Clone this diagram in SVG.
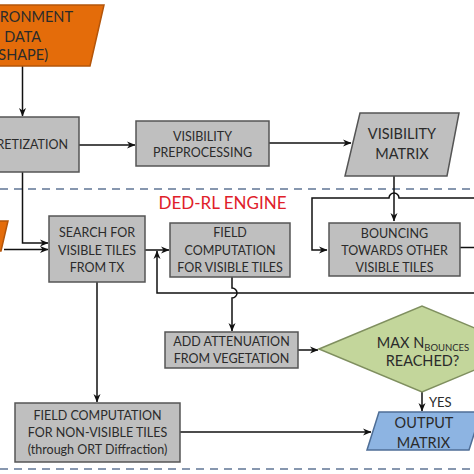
<svg xmlns="http://www.w3.org/2000/svg" width="474" height="474" viewBox="0 0 474 474">
<defs>
<marker id="ah" markerWidth="9" markerHeight="8" refX="8" refY="4" orient="auto" markerUnits="userSpaceOnUse">
<path d="M0,0.5 L8.5,4 L0,7.5 L2.5,4 z" fill="#111"/>
</marker>
<style>
.box{fill:#BFBFBF;stroke:#555;stroke-width:1.5}
.t{font-family:Lato,"Liberation Sans",sans-serif;font-size:12.5px;fill:#2b2b2b;text-anchor:middle}
.tb{font-family:Lato,"Liberation Sans",sans-serif;font-size:14.5px;fill:#2b2b2b;text-anchor:middle}
.c{fill:none;stroke:#111;stroke-width:1.5}
.ca{fill:none;stroke:#111;stroke-width:1.5;marker-end:url(#ah)}
.dash{stroke:#8797AF;stroke-width:2;stroke-dasharray:8 6;fill:none}
</style>
</defs>
<rect width="474" height="474" fill="#fff"/>

<g id="separators">
<line class="dash" x1="0" y1="189" x2="474" y2="189"/>
<line class="dash" x1="0" y1="469" x2="474" y2="469"/>
</g>

<g id="connectors">
<path class="ca" d="M22.5,66 V116"/>
<path class="ca" d="M79,145 H135"/>
<path class="ca" d="M269,143 H351"/>
<path class="ca" d="M394,176 V221"/>
<path class="ca" d="M474,198 H399 a5,5 0 0 0 -10,0 H312 V250 H327"/>
<path class="c" d="M460,247.5 H474"/>
<path class="ca" d="M474,293 H157 V251"/>
<path class="ca" d="M22.5,172 V243 H48"/>
<path class="ca" d="M4,249.5 H48"/>
<path class="ca" d="M145,250 H169"/>
<path class="ca" d="M232,277 V288 a5,5 0 0 1 0,10 V331"/>
<path class="ca" d="M97,282 V402"/>
<path class="ca" d="M298,350 H318"/>
<path class="ca" d="M422,392 V411"/>
<path class="ca" d="M180,432 H371"/>
<text x="429" y="407" font-family="Lato,'Liberation Sans',sans-serif" font-size="13" fill="#2b2b2b">YES</text>
</g>

<g id="environment-data">
<polygon points="-22,5 104,5 90,66 -36,66" fill="#E46C0A" stroke="#B4550A" stroke-width="1.5"/>
<text class="tb" x="73" y="22" style="text-anchor:end">ENVIRONMENT</text>
<text class="tb" x="22.7" y="42">DATA</text>
<text class="tb" x="48" y="60" style="text-anchor:end">(SHAPE)</text>
</g>

<g id="discretization">
<rect class="box" x="-40" y="117" width="119" height="55"/>
<text class="t" x="68" y="149" style="text-anchor:end">DISCRETIZATION</text>
</g>

<g id="visibility-preprocessing">
<rect class="box" x="136" y="121" width="133" height="45"/>
<text class="t" x="202.5" y="141">VISIBILITY</text>
<text class="t" x="202.5" y="157">PREPROCESSING</text>
</g>

<g id="visibility-matrix">
<polygon class="box" points="360,113 459,113 447,176 345,176"/>
<text class="tb" x="402" y="139">VISIBILITY</text>
<text class="tb" x="402" y="159">MATRIX</text>
</g>

<g id="engine-label">
<text x="222.5" y="209" font-family="Lato,'Liberation Sans',sans-serif" font-size="17" fill="#E0202A" text-anchor="middle">DED-RL ENGINE</text>
</g>

<g id="tx-input">
<polygon points="-40,221 8,221 1,251 -47,251" fill="#E46C0A" stroke="#B4550A" stroke-width="1.5"/>
</g>

<g id="search-visible">
<rect class="box" x="49" y="216" width="96" height="66"/>
<text class="t" x="97" y="237">SEARCH FOR</text>
<text class="t" x="97" y="255">VISIBLE TILES</text>
<text class="t" x="97" y="272">FROM TX</text>
</g>

<g id="field-visible">
<rect class="box" x="170" y="223" width="120" height="54"/>
<text class="t" x="230" y="237">FIELD</text>
<text class="t" x="230" y="255">COMPUTATION</text>
<text class="t" x="230" y="272">FOR VISIBLE TILES</text>
</g>

<g id="bouncing">
<rect class="box" x="329" y="223" width="131" height="53"/>
<text class="t" x="394.5" y="238">BOUNCING</text>
<text class="t" x="394.5" y="255">TOWARDS OTHER</text>
<text class="t" x="394.5" y="272">VISIBLE TILES</text>
</g>

<g id="vegetation">
<rect class="box" x="165" y="332" width="133" height="36"/>
<text class="t" x="231.5" y="346">ADD ATTENUATION</text>
<text class="t" x="231.5" y="362.5">FROM VEGETATION</text>
</g>

<g id="max-bounces">
<polygon points="319,349 422,306 525,349 422,392" fill="#C3D69B" stroke="#7F8F5F" stroke-width="1.5"/>
<text x="423" y="348" font-family="Lato,'Liberation Sans',sans-serif" font-size="14.5" fill="#2b2b2b" text-anchor="middle">MAX N<tspan font-size="9.5" dy="2.5">BOUNCES</tspan></text>
<text class="tb" x="422.5" y="366">REACHED?</text>
</g>

<g id="output-matrix">
<polygon points="379,412 481,412 469,450 367,450" fill="#8DB4E2" stroke="#4F6E96" stroke-width="1.5"/>
<text class="tb" x="424" y="428">OUTPUT</text>
<text class="tb" x="423.5" y="448">MATRIX</text>
</g>

<g id="field-nonvisible">
<rect class="box" x="15" y="403" width="165" height="59"/>
<text class="t" x="97.5" y="420">FIELD COMPUTATION</text>
<text class="t" x="97.5" y="437">FOR NON-VISIBLE TILES</text>
<text class="t" x="97.5" y="454">(through ORT Diffraction)</text>
</g>
</svg>
